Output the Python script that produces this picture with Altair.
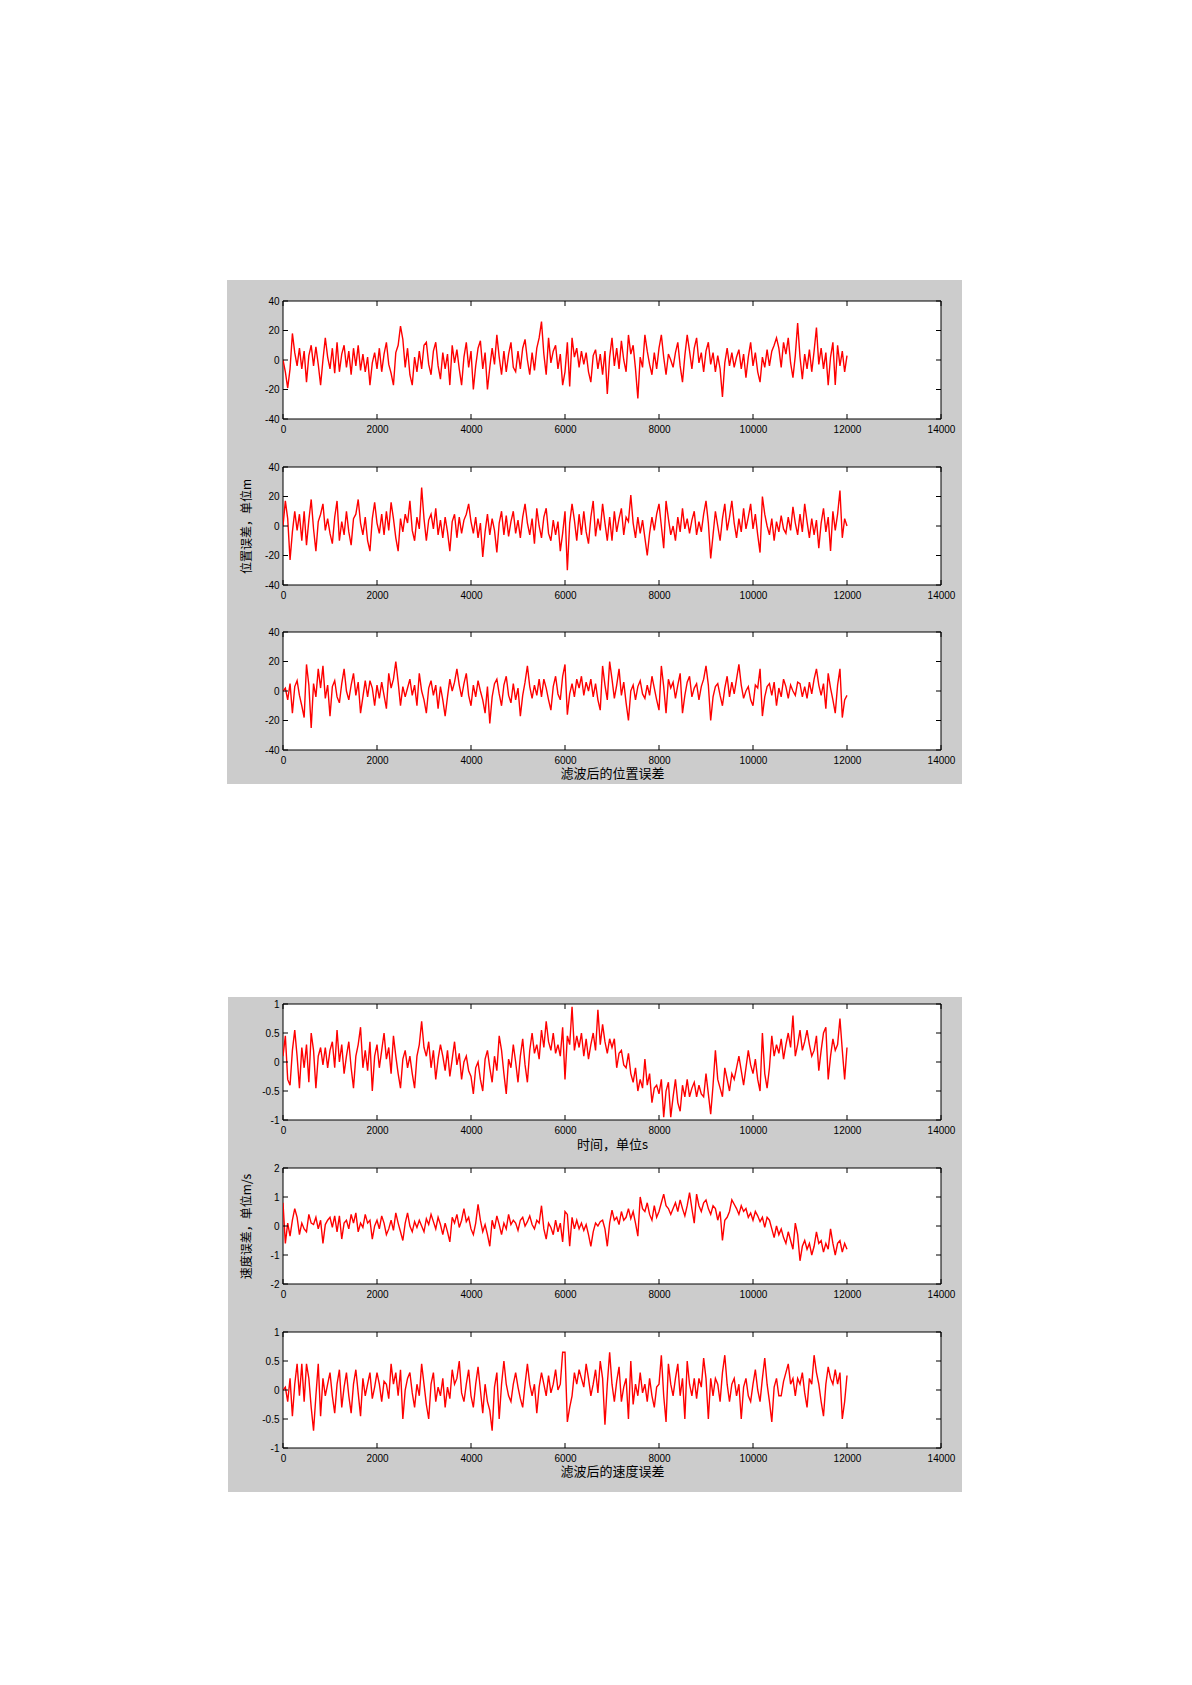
import altair as alt
import pandas as pd

STEP = 50
X_TICKS = [0, 2000, 4000, 6000, 8000, 10000, 12000, 14000]
POS_TICKS = [-40, -20, 0, 20, 40]
VEL_TICKS_A = [-1, -0.5, 0, 0.5, 1]
VEL_TICKS_B = [-2, -1, 0, 1, 2]

pos_1 = [
    0, -8, -19, -6, 18, 5, -4, 8, -6, 6, -15, 3, 10, -4, 9, -3, -17, 0, 15, 2,
    -6, 8, -9, 12, -8, 4, 10, -5, 6, -10, 8, -4, 10, -7, 4, -8, 2, -17, -2, 5,
    -6, 8, -8, 4, 12, -3, -9, -17, 5, 10, 23, 14, -5, 8, -10, -17, 2, -8, 6, -6,
    10, 12, -3, -10, 6, 12, -4, -13, 5, -6, 4, -17, 10, -2, 7, -6, -17, 2, 12, -5,
    6, -20, -4, 8, 13, -6, 5, -20, -5, 8, -3, 17, 2, -10, 6, -8, 4, 12, -5, -8,
    6, -6, 8, 14, 0, -10, 5, -7, 8, 15, 26, 4, -10, 15, -2, 6, 10, -6, 4, -17,
    -8, 12, -18, 15, 2, 8, -5, 6, -3, 5, -8, -15, 3, 7, -6, 4, -10, 6, -23, 2,
    15, -4, 8, -6, 13, 0, -8, 17, 4, 10, -6, -26, 2, -5, 17, 6, -3, -10, 5, -6,
    8, 17, 2, -10, 4, 0, -5, 5, 12, -4, -15, 3, 17, 6, -6, 8, 15, -2, 5, -8,
    6, 12, -3, 5, -8, 3, -6, -25, -2, 8, -4, 5, -5, 2, 7, -6, 4, -12, 2, 12,
    -4, 5, -8, -15, 2, -5, 7, -4, 6, 10, 15, 8, -5, 12, 4, 15, -2, -12, 3, 25,
    2, -13, 4, -6, 7, -8, 6, 22, -3, 8, -6, 5, -17, 2, 12, -17, 10, -4, 6, -8, 3,
]

pos_2 = [
    0, 17, 5, -23, -4, 10, -3, 8, -10, 10, -13, 4, 18, -2, -17, 3, 8, 15, -3, 5,
    -5, -12, 6, 17, -10, 3, -6, 10, -4, -13, 5, 8, 18, 2, -6, 6, -10, -17, 5, 16,
    2, -5, 8, -6, 10, -3, 16, 5, -8, -17, 5, -4, 8, 2, 17, -3, -10, 6, -2, 26,
    5, -10, 4, 8, -2, 12, -6, 4, -8, 6, -4, -17, 3, 8, -8, 6, -5, 4, 8, 15,
    3, -5, 6, -8, 2, -21, -4, 8, -6, 5, -3, -18, 2, 10, -6, 7, -7, 3, 10, -5,
    4, -8, 6, 15, 2, -6, 5, -12, 12, 0, -8, 6, 12, -5, -10, 4, -6, 3, -17, -5,
    10, -30, 2, 15, 4, -10, 8, -6, 10, -4, -12, 6, 17, -7, 5, -3, 15, 2, -10, 6,
    -10, 10, -4, 5, 12, -6, 6, 3, 21, 2, -8, 6, -5, 4, -8, -20, -5, 6, -3, 8,
    15, 0, -15, 17, 5, -6, 0, -10, 6, -4, 12, -2, 5, -5, 4, 10, -6, 3, -4, 8,
    17, 2, -22, -6, 10, 0, -10, 5, 15, -3, 6, 17, 2, -8, 5, -4, 12, -2, 6, 15,
    -2, 8, -6, -18, 20, 8, 0, -6, 5, -10, 3, -4, 7, -2, -5, 6, -3, 13, 2, -6,
    8, -4, 15, 3, -8, 5, -6, 4, -15, 2, 12, -4, 6, -17, 10, -3, 8, 24, -8, 5, 0,
]

pos_3 = [
    0, 2, -6, 5, -15, 3, 7, -3, -10, -18, 18, 4, -25, 5, -4, 15, 2, 17, -5, 4,
    -17, 3, 7, -4, -8, 5, 15, 0, -6, 4, 12, -3, 6, -15, -4, 7, -4, 7, 2, -10,
    4, -5, 6, -3, -12, 12, 2, 8, 20, 6, -10, 3, -4, 2, 8, -3, 4, -10, 12, 0,
    -6, -15, 2, 7, -3, 4, -12, 3, -6, -17, -4, 8, 0, 6, 15, 4, -4, 5, 12, -3,
    -10, 4, -4, 7, 0, -6, -15, 3, -22, -4, 5, 8, -2, -10, 4, 10, -3, -8, 5, -6,
    2, -17, -3, 6, 17, 3, -5, 4, -3, 8, -4, 8, 2, -6, -13, 3, 10, -2, -6, 10,
    18, -16, -2, 5, -4, 8, 2, 10, -3, 6, 0, 8, -4, 5, -6, -13, 17, 4, -6, 20,
    8, -5, 4, 15, -3, 6, -8, -20, 0, 4, -6, 3, 7, -2, -5, 4, -3, 10, 2, -6,
    -13, 17, 3, -15, 8, 2, 6, -5, 4, 12, -15, -3, 6, 10, -4, 2, 5, -6, 3, 8,
    17, 4, -20, -4, 3, 5, -3, -10, 2, 10, -4, 6, -2, 8, 18, 4, -5, 0, 3, -6,
    -10, 4, 2, 15, -17, -4, 3, 5, -3, 6, -10, 2, -4, 8, 3, -5, 4, 0, -3, 6,
    5, -4, 3, -5, 6, -2, 8, 15, 4, -3, 5, -12, 12, 2, -6, -15, 4, 15, -18, -6, -3,
]

vel_1 = [
    0.1, 0.45, -0.3, -0.4, 0.2, 0.55, 0.1, -0.45, 0.25, -0.1, 0.3, -0.35, 0.5, 0.2, -0.45, 0.1, 0.25, -0.05, 0.25, -0.1,
    0.2, 0.35, -0.1, 0.55, 0, 0.3, -0.2, 0.1, 0.35, -0.1, -0.45, 0.1, 0.3, 0.6, -0.1, 0.2, -0.15, 0.35, -0.5, 0.1,
    0.3, -0.1, 0.2, 0.5, 0.05, 0.25, -0.2, 0.45, 0.1, -0.2, -0.45, 0.05, 0.2, -0.1, 0.1, -0.2, -0.45, 0.1, 0.3, 0.7,
    0.25, 0.1, 0.35, -0.1, 0.2, -0.3, 0.05, 0.3, 0.1, -0.15, 0.2, -0.25, 0.05, 0.35, -0.05, 0.15, -0.3, 0, 0.1, -0.15,
    -0.25, -0.55, -0.1, 0, -0.3, -0.5, 0.05, 0.2, -0.1, -0.35, 0.1, -0.15, 0.45, 0.2, -0.2, -0.55, 0.05, -0.1, 0.3, 0,
    -0.35, 0.1, 0.4, -0.05, -0.35, 0.2, 0.5, 0.15, 0.3, 0.05, 0.55, 0.25, 0.7, 0.35, 0.2, 0.5, 0.15, 0.3, 0.1, 0.6,
    -0.3, 0.45, 0.3, 0.95, 0.2, 0.45, 0.25, 0.5, 0.1, 0.4, 0.05, 0.3, 0.5, 0.2, 0.9, 0.3, 0.65, 0.35, 0.15, 0.4,
    0.25, 0.4, -0.1, 0.15, 0.2, -0.05, -0.1, 0.15, -0.2, -0.35, -0.1, -0.5, -0.3, -0.45, 0.05, -0.4, -0.2, -0.7, -0.45, -0.4,
    -0.55, -0.3, -0.95, -0.5, -0.35, -0.95, -0.6, -0.3, -0.7, -0.85, -0.4, -0.6, -0.3, -0.6, -0.45, -0.35, -0.6, -0.4, -0.55, -0.6,
    -0.2, -0.55, -0.9, -0.4, 0.2, -0.3, -0.45, -0.6, -0.1, -0.3, -0.5, -0.2, -0.3, -0.1, 0.1, -0.15, -0.4, -0.1, 0.2, -0.05,
    -0.2, 0.05, -0.3, -0.5, 0.5, -0.2, -0.45, -0.1, 0.45, 0.1, 0.3, 0.15, 0.4, 0.05, 0.3, 0.5, 0.25, 0.8, 0.1, 0.3,
    0.55, 0.2, 0.35, 0.55, 0.3, 0.1, 0.2, 0.45, -0.15, 0.2, 0.5, 0.6, -0.3, 0.1, 0.4, 0.2, 0.3, 0.75, 0.2, -0.3, 0.25,
]

vel_2 = [
    0.8, -0.6, 0.1, -0.35, 0.2, 0.6, 0.3, -0.3, 0.1, -0.1, -0.2, 0.4, 0.1, 0.05, 0.3, -0.1, 0.2, -0.6, 0.05, 0.2,
    0.3, -0.05, 0.35, -0.2, 0.35, -0.45, 0.1, 0.2, -0.1, 0.4, 0.1, 0.45, -0.2, 0.1, -0.05, 0.4, 0.1, 0.2, -0.45, 0,
    0.2, -0.1, 0.35, 0.1, -0.3, -0.1, 0.2, -0.15, 0.45, 0.1, -0.2, -0.5, 0.1, 0.45, 0, -0.2, 0.15, -0.05, 0.2, 0,
    -0.2, 0.25, 0.05, 0.4, 0.15, -0.1, 0.3, 0.05, -0.3, 0.1, -0.2, -0.55, 0.3, 0.1, 0.4, -0.05, 0.2, 0.6, 0.15, 0.3,
    -0.1, -0.3, 0.1, 0.75, 0.2, -0.2, 0.05, -0.3, -0.7, 0.2, -0.1, 0.35, 0.05, -0.3, 0.1, -0.1, 0.4, 0.05, 0.2, 0.1,
    -0.15, 0.2, 0.3, 0, 0.15, 0.35, 0.05, -0.1, 0.2, 0.1, 0.7, -0.1, -0.45, 0.1, -0.05, -0.3, 0.2, -0.2, 0.1, -0.55,
    0.5, 0.4, -0.7, 0.3, -0.1, 0.2, -0.1, 0.1, -0.15, 0.05, -0.3, -0.7, -0.2, 0.1, 0, 0.15, 0.2, -0.1, -0.7, 0.1,
    0.55, 0.2, 0.3, 0.05, 0.5, 0.2, 0.3, 0.6, 0.25, 0.5, 0.1, -0.35, 1.0, 0.6, 0.5, 0.8, 0.4, 0.2, 0.7, 0.3,
    0.5, 0.8, 1.1, 0.7, 0.6, 0.4, 0.6, 0.8, 0.5, 0.9, 0.6, 0.35, 0.7, 1.15, 0.6, 0.1, 1.1, 0.7, 0.5, 0.8,
    0.9, 0.6, 0.4, 0.7, 0.6, 0.2, 0.5, -0.5, 0.2, 0.3, 0.5, 0.9, 0.75, 0.6, 0.4, 0.7, 0.5, 0.6, 0.3, 0.45,
    0.2, 0.5, 0.35, 0.15, 0.3, -0.05, 0.3, 0.2, -0.1, -0.4, 0, -0.3, -0.1, -0.4, -0.6, -0.2, -0.5, -0.8, 0.1, -0.3,
    -1.2, -0.7, -0.5, -0.8, -0.6, -1.0, -0.7, -0.2, -0.6, -0.5, -0.9, -0.6, -0.8, -0.1, -0.6, -1.0, -0.6, -0.5, -0.9, -0.6, -0.8,
]

vel_3 = [
    0, 0.05, -0.2, 0.2, -0.45, 0.1, 0.45, -0.1, 0.45, -0.2, 0.45, 0.2, -0.3, -0.7, -0.1, 0.45, -0.45, 0.2, -0.1, 0.1,
    0.3, -0.1, -0.4, 0.1, 0.35, -0.3, 0.05, 0.3, -0.1, -0.4, 0.1, 0.35, -0.05, -0.45, 0.2, -0.1, 0.1, 0.3, -0.15, 0.05,
    0.3, 0.1, -0.2, 0.15, 0.1, -0.15, 0.45, 0.1, 0.3, -0.1, 0.35, -0.5, 0, 0.2, 0.3, -0.05, -0.3, 0.1, -0.1, 0.45,
    0.1, -0.25, -0.5, 0.1, 0.3, -0.2, 0.05, -0.1, 0.2, -0.3, 0.05, -0.15, 0.35, 0.1, 0.2, 0.5, -0.05, -0.2, 0.1, 0.35,
    -0.1, -0.3, 0.1, 0.4, 0, -0.4, 0.1, -0.2, -0.35, -0.7, 0.05, 0.3, -0.5, 0.1, 0.5, 0.1, -0.1, -0.2, 0.1, 0.3,
    0.05, -0.15, -0.3, 0.1, 0.45, 0.1, -0.1, 0.1, -0.4, 0.05, 0.3, 0.1, -0.1, 0.25, -0.05, 0.1, 0.35, 0, 0.1, 0.65,
    0.65, -0.55, -0.3, -0.1, 0.3, 0.1, 0.35, 0.2, 0.05, 0.45, 0.2, -0.1, 0.1, 0.35, -0.05, 0.5, 0.2, -0.6, 0.1, 0.65,
    0.1, -0.2, 0.15, 0.4, -0.2, 0.05, 0.2, -0.5, 0.5, -0.25, 0.1, -0.1, 0.3, -0.05, 0.1, -0.2, 0.2, -0.1, -0.3, 0.05,
    0.1, 0.6, -0.1, -0.55, 0.45, 0.1, -0.1, 0.2, 0.45, -0.1, 0.2, -0.5, 0.5, 0.1, -0.1, 0.2, -0.15, 0.2, 0.05, 0.55,
    0.2, -0.5, 0.2, -0.1, 0.2, 0.1, -0.2, 0.3, 0.6, 0.1, -0.2, 0.1, 0.2, -0.1, 0.1, -0.5, 0.05, 0.2, -0.1, -0.2,
    0.1, 0.35, 0, -0.2, 0.2, 0.55, 0.1, -0.2, -0.55, 0.05, 0.2, -0.1, -0.1, 0.15, 0.3, 0.45, 0.1, 0.2, -0.1, 0.2,
    0.1, 0.3, -0.05, -0.3, 0.2, 0.1, 0.6, 0.3, 0.1, -0.2, -0.45, 0.1, 0.4, 0.2, 0.1, 0.35, 0.1, 0.3, -0.5, -0.2, 0.25,
]

# ---------------- styling ----------------
W = 658
GREY = "#cccccc"
RED = "#ff0000"
NUM_FONT = "Liberation Sans"
CJK_FONT = "Noto Sans CJK SC"
TICK = 5


def panel(values, domain, yticks, H, top, bottom, left, xtitle=None, xtitle_y=23, ytitle=None):
    df = pd.DataFrame({"t": [STEP * i for i in range(len(values))], "v": values})
    one = pd.DataFrame({"k": [0]})
    xscale = alt.Scale(domain=[0, 14000], nice=False, zero=False)
    yscale = alt.Scale(domain=domain, nice=False, zero=False)

    xaxis_kw = dict(
        values=X_TICKS, tickSize=0, domain=False, grid=False,
        labelExpr="'' + datum.value", labelFont=NUM_FONT, labelFontSize=10,
        labelColor="black", labelPadding=5, labelFlush=False, labelOverlap=False,
        zindex=2,
    )
    if xtitle:
        xaxis_kw.update(title=xtitle, titleFont=CJK_FONT, titleFontSize=13,
                        titleFontWeight="normal", titleColor="black",
                        titleX=W / 2, titleY=xtitle_y, titleAlign="center",
                        titleBaseline="middle")
    else:
        xaxis_kw.update(title="")
    yaxis_kw = dict(
        values=yticks, tickSize=0, domain=False, grid=False,
        labelExpr="'' + datum.value", labelFont=NUM_FONT, labelFontSize=10,
        labelColor="black", labelPadding=4, labelFlush=False, labelOverlap=False,
        zindex=2,
    )
    if ytitle:
        yaxis_kw.update(title=ytitle, titleFont=CJK_FONT, titleFontSize=12,
                        titleFontWeight="normal", titleColor="black",
                        titleAngle=270, titleX=-37, titleY=H / 2,
                        titleAlign="center", titleBaseline="middle")
    else:
        yaxis_kw.update(title="")

    xenc = lambda: alt.X("t:Q", scale=xscale, axis=alt.Axis(**xaxis_kw))
    yenc = lambda: alt.Y("v:Q", scale=yscale, axis=alt.Axis(**yaxis_kw))

    bg = alt.Chart(one).mark_rect(color=GREY).encode(
        x=alt.value(left), x2=alt.value(679), y=alt.value(top), y2=alt.value(bottom))
    box = alt.Chart(one).mark_rect(fill="white", stroke="black", strokeWidth=1).encode(
        x=alt.value(0), x2=alt.value(W), y=alt.value(0), y2=alt.value(H))
    line = alt.Chart(df).mark_line(color=RED, strokeWidth=1.4, clip=True).encode(
        x=xenc(), y=yenc())
    xt = pd.DataFrame({"t": X_TICKS})
    yt = pd.DataFrame({"v": yticks})
    tb = alt.Chart(xt).mark_rule(color="black", strokeWidth=1).encode(
        x=xenc(), y=alt.value(H), y2=alt.value(H - TICK))
    tt = alt.Chart(xt).mark_rule(color="black", strokeWidth=1).encode(
        x=xenc(), y=alt.value(0), y2=alt.value(TICK))
    tl = alt.Chart(yt).mark_rule(color="black", strokeWidth=1).encode(
        y=yenc(), x=alt.value(0), x2=alt.value(TICK))
    tr = alt.Chart(yt).mark_rule(color="black", strokeWidth=1).encode(
        y=yenc(), x=alt.value(W), x2=alt.value(W - TICK))
    return alt.layer(bg, box, line, tb, tt, tl, tr).properties(width=W, height=H)


H1 = 118
H2 = 116
fig1 = alt.vconcat(
    panel(pos_1, [-40, 40], POS_TICKS, H1, -21, 154, -56),
    panel(pos_2, [-40, 40], POS_TICKS, H1, -12, 153, -56, ytitle="位置误差，单位m"),
    panel(pos_3, [-40, 40], POS_TICKS, H1, -12, 152, -56, xtitle="滤波后的位置误差", xtitle_y=23),
    spacing=0,
)
fig2 = alt.vconcat(
    panel(vel_1, [-1, 1], VEL_TICKS_A, H2, -7, 154, -55, xtitle="时间，单位s", xtitle_y=24),
    panel(vel_2, [-2, 2], VEL_TICKS_B, H2, -10, 152, -55, ytitle="速度误差，单位m/s"),
    panel(vel_3, [-1, 1], VEL_TICKS_A, H2, -12, 160, -55, xtitle="滤波后的速度误差", xtitle_y=23),
    spacing=0,
)

chart = alt.vconcat(fig1, fig2, spacing=213).properties(
    padding={"left": 219, "top": 272, "right": 5, "bottom": 5},
    background="white",
).configure_view(stroke=None)

chart.save("out.html", embed_options={"renderer": "svg", "actions": False})
